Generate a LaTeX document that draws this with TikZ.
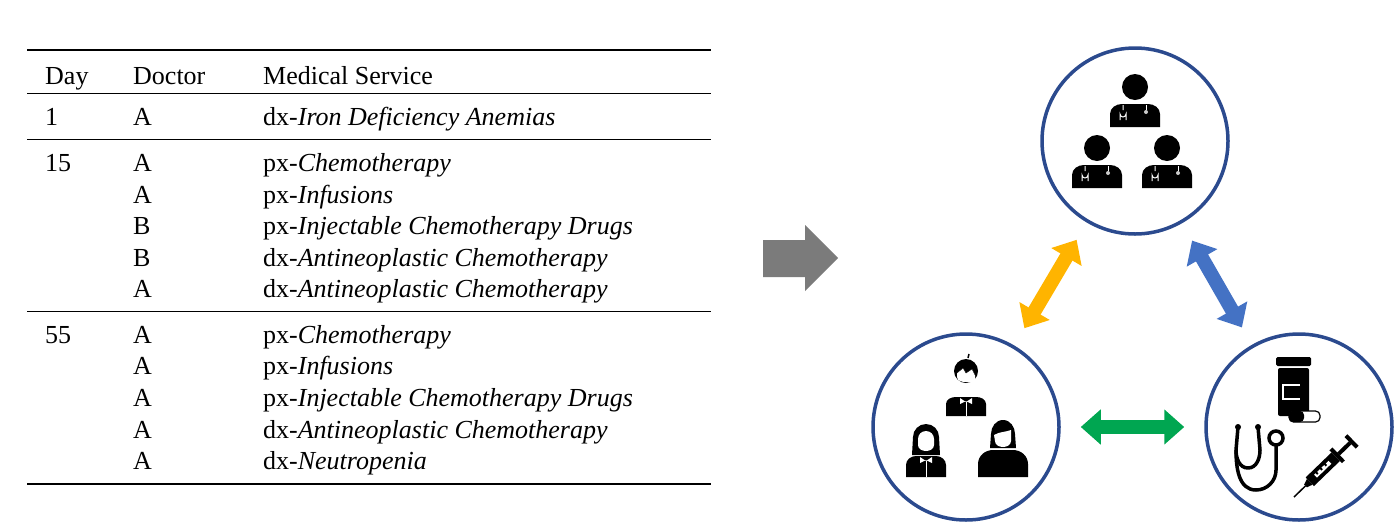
\documentclass[tikz,border=0pt]{standalone}
\usepackage{fontspec}
\setmainfont{Liberation Serif}
\usetikzlibrary{arrows.meta}
\definecolor{navy}{HTML}{2B4A8E}
\definecolor{yel}{HTML}{FFB400}
\definecolor{blu}{HTML}{4472C4}
\definecolor{grn}{HTML}{00A651}
\begin{document}
\begin{tikzpicture}[x=1pt,y=-1pt,
  cell/.style={anchor=base west,inner sep=0,font=\fontsize{26}{26}\selectfont},
  circ/.style={circle,draw=navy,line width=3.5pt,minimum size=186pt,inner sep=0},
  dbl/.style={line width=14pt,{Triangle[width=34pt,length=20pt]}-{Triangle[width=34pt,length=20pt]},shorten <=20pt,shorten >=20pt}]
\useasboundingbox (0,0) rectangle (1400,531);
% table rules
\draw[line width=1.6pt] (27,50) -- (711,50);
\draw[line width=0.8pt] (27,93) -- (711,93);
\draw[line width=0.8pt] (27,139) -- (711,139);
\draw[line width=0.8pt] (27,311) -- (711,311);
\draw[line width=1.6pt] (27,484) -- (711,484);
% header
\node[cell] (h1) at (45,84) {Day};
\node[cell] (h2) at (133,84) {Doctor};
\node[cell] (h3) at (263,84) {Medical Service};
\foreach \y/\d/\dd/\s [count=\i] in {
 125/1/A/dx-\textit{Iron Deficiency Anemias},
 171/15/A/px-\textit{Chemotherapy},
 203//A/px-\textit{Infusions},
 234//B/px-\textit{Injectable Chemotherapy Drugs},
 266//B/dx-\textit{Antineoplastic Chemotherapy},
 297//A/dx-\textit{Antineoplastic Chemotherapy},
 343/55/A/px-\textit{Chemotherapy},
 374//A/px-\textit{Infusions},
 406//A/px-\textit{Injectable Chemotherapy Drugs},
 438//A/dx-\textit{Antineoplastic Chemotherapy},
 469//A/dx-\textit{Neutropenia}}{
 \node[cell] (d\i) at (45,\y) {\d};
 \node[cell] (o\i) at (133,\y) {\dd};
 \node[cell] (s\i) at (263,\y) {\s};
}
% gray arrow
\fill[gray!85!black!90] (763,240) -- (805,240) -- (805,225) -- (838,258) -- (805,291) -- (805,277) -- (763,277) -- cycle;
% circles
\node[circ] (doc) at (1135,141) {};
\node[circ] (pat) at (966,427) {};
\node[circ] (med) at (1299,427) {};
\draw[dbl,yel] (pat) -- (doc);
\draw[dbl,blu] (doc) -- (med);
\draw[dbl,grn] (pat) -- (med);
% doctors
\foreach \x/\y [count=\k] in {1135/87,1097/148,1167/148}{
 \begin{scope}[shift={(\x,\y)}]
  \fill (0,0) circle (13);
  \fill (-25,40) -- (-25,27) to[out=90,in=180] (-13,17) -- (13,17) to[out=0,in=90] (25,27) -- (25,40) -- cycle;
  \draw[white,line width=1pt] (-12,18) -- (-12,23) (-15,33) -- (-15,27) arc (180:0:3) -- (-9,33);
  \draw[white,line width=0.8pt] (11,18) -- (11,23);
  \fill[gray!40] (11,25) circle (2);
 \end{scope}}
% patients
\begin{scope}[shift={(966,371)}]
 \fill (0,0) circle (12);
 \draw[black,line width=1.5pt] (2,-13) -- (3,-17);
 \fill[white] (-9,2) -- (-3,-3) -- (0,2) -- (6,-2) -- (9,4) -- (9,10) to[out=-90,in=0] (0,11) to[out=180,in=-90] (-9,6) -- cycle;
 \draw (-9,2) -- (-3,-3) -- (0,2) -- (6,-2) -- (9,4);
 \fill (-20,45) -- (-20,33) to[out=90,in=180] (-10,26) -- (10,26) to[out=0,in=90] (20,33) -- (20,45) -- cycle;
 \fill[white] (-6,27) -- (0,31) -- (6,27) -- (6,33) -- (0,30) -- (-6,33) -- cycle;
 \draw[white,line width=0.8pt] (0,31) -- (0,45);
\end{scope}
\begin{scope}[shift={(926,437)}]
 \fill (-14,18) -- (-13,0) to[out=90,in=180] (0,-13) to[out=0,in=90] (13,0) -- (14,18) -- cycle;
 \fill[white] (-8,2) to[out=90,in=180] (0,-6) to[out=0,in=90] (8,2) -- (8,8) to[out=-90,in=0] (0,14) to[out=180,in=-90] (-8,8) -- cycle;
 \fill (-20,40) -- (-20,28) to[out=90,in=180] (-10,19) -- (10,19) to[out=0,in=90] (20,28) -- (20,40) -- cycle;
 \fill[white] (-6,20) -- (0,24) -- (6,20) -- (6,26) -- (0,23) -- (-6,26) -- cycle;
 \draw[white,line width=0.8pt] (0,24) -- (0,40);
\end{scope}
\begin{scope}[shift={(1003,434)}]
 \fill (-13,14) -- (-12,0) to[out=90,in=180] (0,-14) to[out=0,in=90] (12,0) -- (13,14) -- cycle;
 \fill[white] (-9,1) to[out=30,in=200] (8,-4) -- (8,7) to[out=-90,in=0] (0,13) to[out=180,in=-90] (-8,7) -- cycle;
 \fill (-25,43) -- (-25,30) to[out=90,in=180] (-10,16) -- (10,16) to[out=0,in=90] (25,30) -- (25,43) -- cycle;
\end{scope}
% medication
\fill[rounded corners=1.5pt] (1276,357) rectangle (1311,366);
\fill[rounded corners=2pt] (1278,368) rectangle (1309,416);
\fill[white] (1282,384) rectangle (1300,400);
\fill (1284,386) rectangle (1309,398);
\draw[black,line width=1.2pt,fill=white,rounded corners=4.5pt] (1289,411) rectangle (1320,422);
\fill[rounded corners=4pt] (1289,411) rectangle (1304,422);
% stethoscope
\draw[line width=3.5pt] (1238,427) -- (1236,450) to[out=-90,in=180] (1256,490) to[out=0,in=-90] (1276,470) -- (1276,446);
\draw[line width=3.5pt] (1258,427) -- (1260,450) to[out=-90,in=0] (1248,468);
\draw[line width=3.5pt] (1236,450) to[out=-90,in=180] (1248,468);
\draw[line width=3.5pt] (1276,438) circle (7);
\fill (1238,427) circle (3) (1258,427) circle (3);
% syringe
\begin{scope}[shift={(1294,497)},rotate=44]
 \draw[line width=1.5pt] (0,0) -- (16,0);
 \fill (16,-2) -- (22,-4) -- (22,4) -- (16,2) -- cycle;
 \fill (22,-6) rectangle (58,6);
 \fill[white] (30,-2) rectangle (50,2);
 \foreach \t in {32,38,44}{\fill (\t,-3) rectangle (\t+2,0);}
 \fill (58,-9) rectangle (62,9);
 \fill (62,-2) rectangle (78,2);
 \fill (78,-8) rectangle (82,8);
\end{scope}
\end{tikzpicture}
\end{document}
